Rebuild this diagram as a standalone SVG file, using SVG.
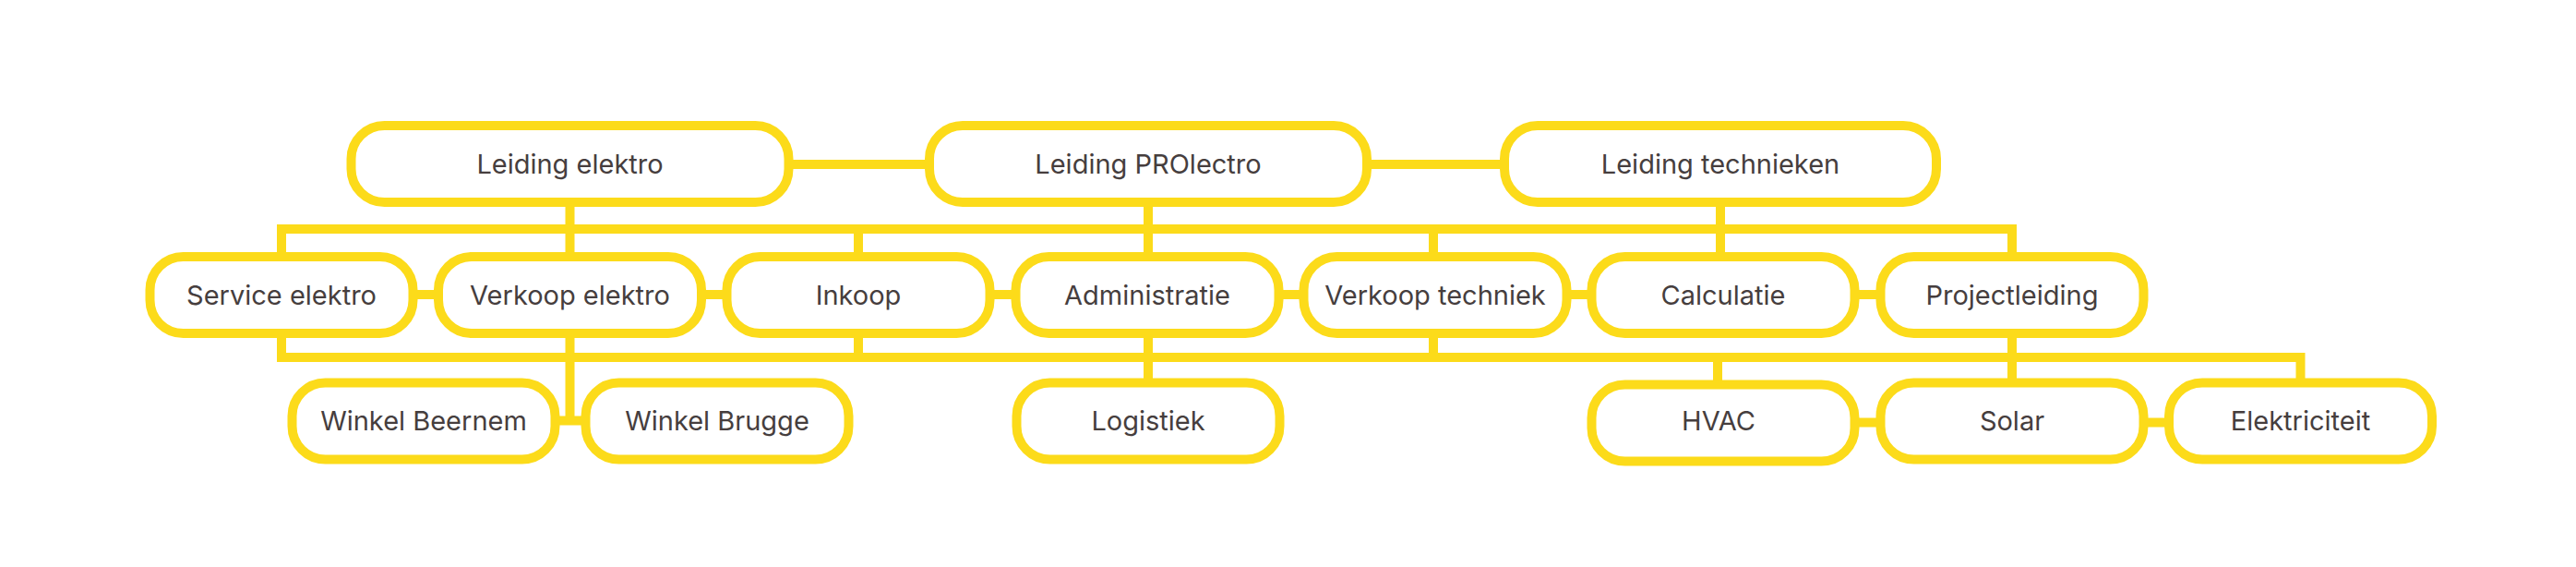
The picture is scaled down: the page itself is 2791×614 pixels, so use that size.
<svg xmlns="http://www.w3.org/2000/svg" width="2791" height="614" viewBox="0 0 2791 614">
<style>
.box{fill:#ffffff;stroke:#FCDB1A;stroke-width:10}
.ln{fill:none;stroke:#FCDB1A;stroke-width:10;stroke-linejoin:miter;stroke-linecap:butt}
.t{font-family:Inter,"Liberation Sans",sans-serif;font-size:29px;fill:#463e3e;text-anchor:middle}
</style>
<rect width="2791" height="614" fill="#ffffff"/>
<g id="connectors">
<path class="ln" d="M854.5,178 H1007 M1481,178 H1630"/>
<path class="ln" d="M305,278 V248 H2180 V278"/>
<path class="ln" d="M617.5,219 V278 M1244,219 V278 M1864,219 V278 M930,248 V278 M1553,248 V278"/>
<path class="ln" d="M447.5,319 H475 M760,319 H787.5 M1072.5,319 H1100.5 M1385.5,319 H1412.5 M1697.5,319 H1724.5 M2009.5,319 H2037.5"/>
<path class="ln" d="M305,361 V387 H2492.5 V414.5"/>
<path class="ln" d="M617.5,361 V455.5 M601.5,455.5 H634.5 M930,361 V387 M1244,361 V414.5 M1553,361 V387 M2180,361 V414.5 M1861,387 V416.5"/>
<path class="ln" d="M2009.5,457.5 H2037.5 M2322.5,457.5 H2350"/>
</g>
<g id="n-leiding-elektro"><rect class="box" x="380.5" y="136" width="474" height="83" rx="36"/><text class="t" x="617.5" y="187.5">Leiding elektro</text></g>
<g id="n-leiding-prolectro"><rect class="box" x="1007" y="136" width="474" height="83" rx="36"/><text class="t" x="1244" y="187.5">Leiding PROlectro</text></g>
<g id="n-leiding-technieken"><rect class="box" x="1630" y="136" width="468" height="83" rx="36"/><text class="t" x="1864" y="187.5">Leiding technieken</text></g>
<g id="n-service-elektro"><rect class="box" x="162.5" y="278" width="285" height="83" rx="36"/><text class="t" x="305" y="330">Service elektro</text></g>
<g id="n-verkoop-elektro"><rect class="box" x="475" y="278" width="285" height="83" rx="36"/><text class="t" x="617.5" y="330">Verkoop elektro</text></g>
<g id="n-inkoop"><rect class="box" x="787.5" y="278" width="285" height="83" rx="36"/><text class="t" x="930" y="330">Inkoop</text></g>
<g id="n-administratie"><rect class="box" x="1100.5" y="278" width="285" height="83" rx="36"/><text class="t" x="1243" y="330">Administratie</text></g>
<g id="n-verkoop-techniek"><rect class="box" x="1412.5" y="278" width="285" height="83" rx="36"/><text class="t" x="1555" y="330">Verkoop techniek</text></g>
<g id="n-calculatie"><rect class="box" x="1724.5" y="278" width="285" height="83" rx="36"/><text class="t" x="1867" y="330">Calculatie</text></g>
<g id="n-projectleiding"><rect class="box" x="2037.5" y="278" width="285" height="83" rx="36"/><text class="t" x="2180" y="330">Projectleiding</text></g>
<g id="n-winkel-beernem"><rect class="box" x="316.5" y="414.5" width="285" height="83" rx="36"/><text class="t" x="459" y="466">Winkel Beernem</text></g>
<g id="n-winkel-brugge"><rect class="box" x="634.5" y="414.5" width="285" height="83" rx="36"/><text class="t" x="777" y="466">Winkel Brugge</text></g>
<g id="n-logistiek"><rect class="box" x="1101.5" y="414.5" width="285" height="83" rx="36"/><text class="t" x="1244" y="466">Logistiek</text></g>
<g id="n-hvac"><rect class="box" x="1724.5" y="416.5" width="285" height="83" rx="36"/><text class="t" x="1862" y="466">HVAC</text></g>
<g id="n-solar"><rect class="box" x="2037.5" y="414.5" width="285" height="83" rx="36"/><text class="t" x="2180" y="466">Solar</text></g>
<g id="n-elektriciteit"><rect class="box" x="2350" y="414.5" width="285" height="83" rx="36"/><text class="t" x="2492.5" y="466">Elektriciteit</text></g>
</svg>
